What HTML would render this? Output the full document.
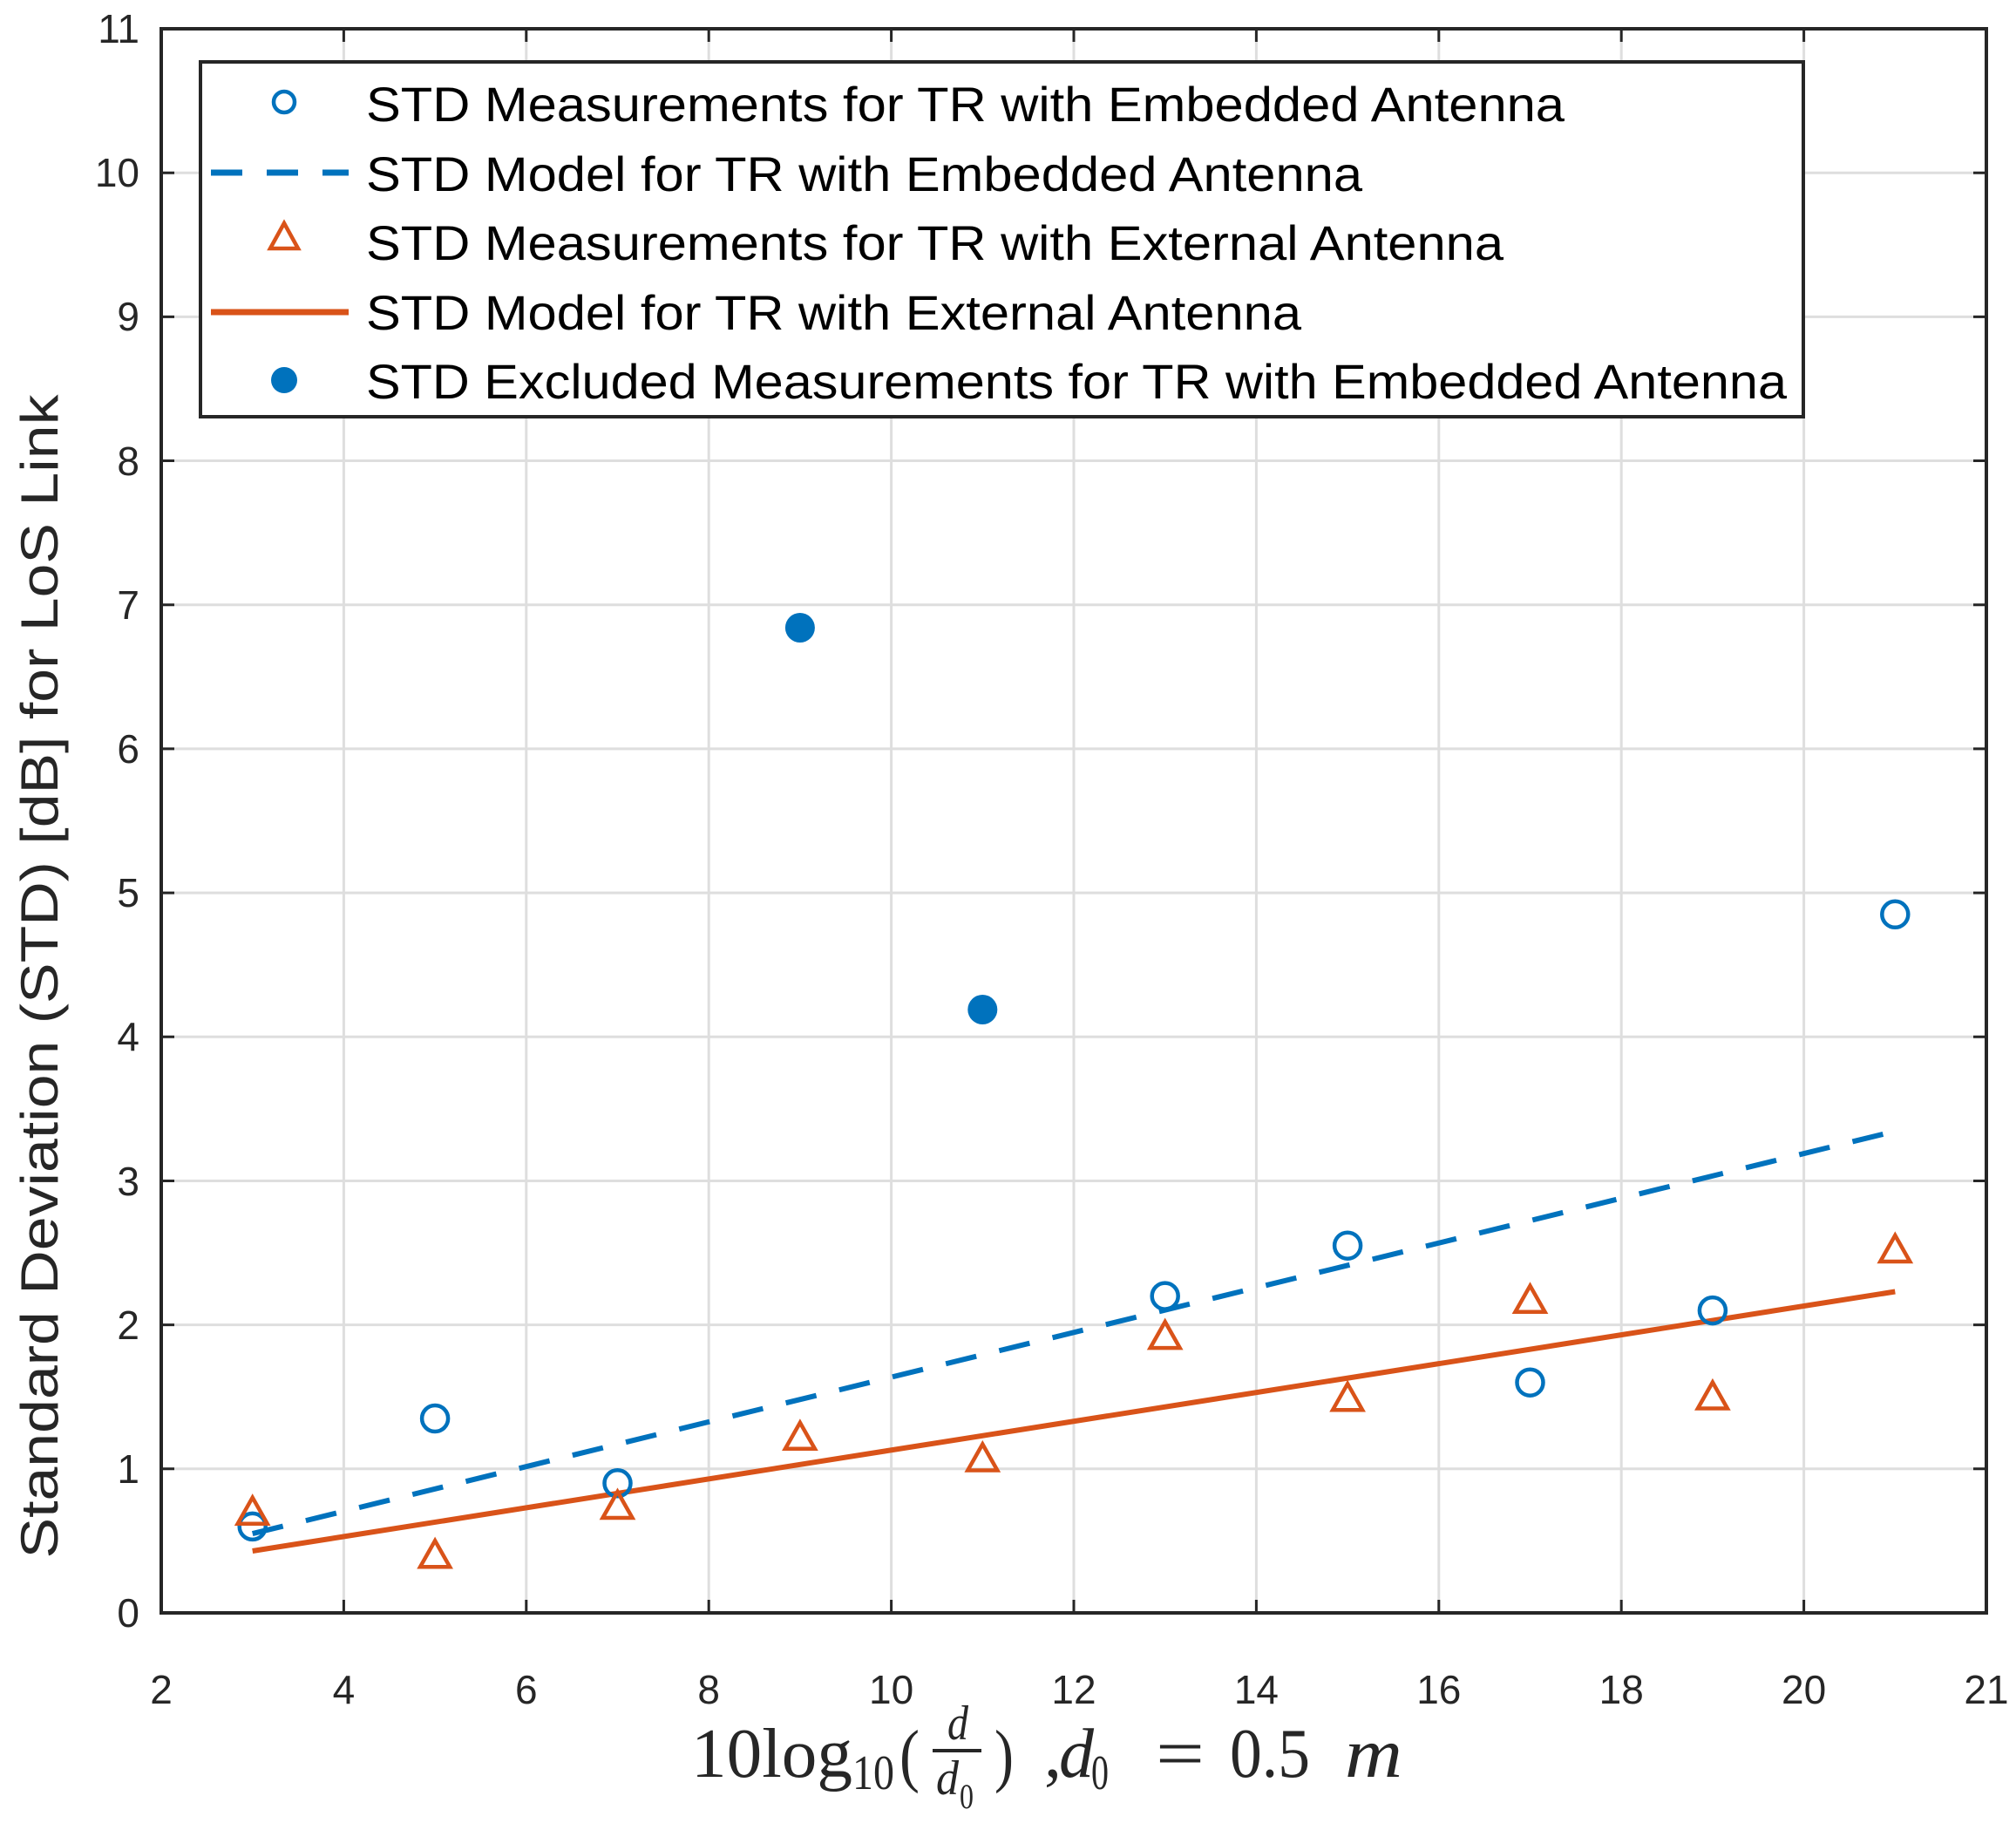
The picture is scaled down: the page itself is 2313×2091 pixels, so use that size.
<!DOCTYPE html>
<html><head><style>html,body{margin:0;padding:0;background:#fff}svg{display:block}</style></head>
<body>
<svg width="2313" height="2091" viewBox="0 0 2313 2091" xmlns="http://www.w3.org/2000/svg">
<rect width="2313" height="2091" fill="#fff"/>
<g stroke="#dedede" stroke-width="3">
<line x1="394.4" y1="33" x2="394.4" y2="1850"/><line x1="603.8" y1="33" x2="603.8" y2="1850"/>
<line x1="813.2" y1="33" x2="813.2" y2="1850"/><line x1="1022.6" y1="33" x2="1022.6" y2="1850"/>
<line x1="1232" y1="33" x2="1232" y2="1850"/><line x1="1441.4" y1="33" x2="1441.4" y2="1850"/>
<line x1="1650.8" y1="33" x2="1650.8" y2="1850"/><line x1="1860.2" y1="33" x2="1860.2" y2="1850"/>
<line x1="2069.6" y1="33" x2="2069.6" y2="1850"/>
<line x1="185" y1="1684.8" x2="2279" y2="1684.8"/><line x1="185" y1="1519.6" x2="2279" y2="1519.6"/>
<line x1="185" y1="1354.5" x2="2279" y2="1354.5"/><line x1="185" y1="1189.3" x2="2279" y2="1189.3"/>
<line x1="185" y1="1024.1" x2="2279" y2="1024.1"/><line x1="185" y1="858.9" x2="2279" y2="858.9"/>
<line x1="185" y1="693.7" x2="2279" y2="693.7"/><line x1="185" y1="528.5" x2="2279" y2="528.5"/>
<line x1="185" y1="363.4" x2="2279" y2="363.4"/><line x1="185" y1="198.2" x2="2279" y2="198.2"/>
</g>
<g stroke="#262626" stroke-width="3">
<path d="M394.4 1850v-15M603.8 1850v-15M813.2 1850v-15M1022.6 1850v-15M1232 1850v-15M1441.4 1850v-15M1650.8 1850v-15M1860.2 1850v-15M2069.6 1850v-15"/>
<path d="M394.4 33v15M603.8 33v15M813.2 33v15M1022.6 33v15M1232 33v15M1441.4 33v15M1650.8 33v15M1860.2 33v15M2069.6 33v15"/>
<path d="M185 1684.8h15M185 1519.6h15M185 1354.5h15M185 1189.3h15M185 1024.1h15M185 858.9h15M185 693.7h15M185 528.5h15M185 363.4h15M185 198.2h15"/>
<path d="M2279 1684.8h-15M2279 1519.6h-15M2279 1354.5h-15M2279 1189.3h-15M2279 1024.1h-15M2279 858.9h-15M2279 693.7h-15M2279 528.5h-15M2279 363.4h-15M2279 198.2h-15"/>
</g>
<rect x="185" y="33" width="2094" height="1817" fill="none" stroke="#262626" stroke-width="4"/>
<g font-family="Liberation Sans, sans-serif" font-size="46" fill="#262626" text-anchor="middle">
<text x="185" y="1954">2</text><text x="394.4" y="1954">4</text><text x="603.8" y="1954">6</text>
<text x="813.2" y="1954">8</text><text x="1022.6" y="1954">10</text><text x="1232" y="1954">12</text>
<text x="1441.4" y="1954">14</text><text x="1650.8" y="1954">16</text><text x="1860.2" y="1954">18</text>
<text x="2069.6" y="1954">20</text><text x="2279" y="1954">21</text>
</g>
<g font-family="Liberation Sans, sans-serif" font-size="46" fill="#262626" text-anchor="end">
<text x="160" y="1866">0</text><text x="160" y="1701">1</text><text x="160" y="1536">2</text>
<text x="160" y="1371">3</text><text x="160" y="1205">4</text><text x="160" y="1040">5</text>
<text x="160" y="875">6</text><text x="160" y="710">7</text><text x="160" y="545">8</text>
<text x="160" y="379">9</text><text x="160" y="214">10</text><text x="160" y="49">11</text>
</g>
<text transform="translate(66,1120) rotate(-90)" font-family="Liberation Sans, sans-serif" font-size="60" fill="#262626" text-anchor="middle" textLength="1335" lengthAdjust="spacingAndGlyphs">Standard Deviation (STD) [dB] for LoS Link</text>
<g font-family="Liberation Serif, serif" font-size="80" fill="#262626">
<text x="793" y="2038" textLength="185" lengthAdjust="spacingAndGlyphs">10log</text>
<text x="978" y="2052" font-size="56" textLength="48" lengthAdjust="spacingAndGlyphs">10</text>
<text x="1032" y="2040" textLength="23" lengthAdjust="spacingAndGlyphs">(</text>
<text x="1087" y="1995" font-size="56" font-style="italic" textLength="24" lengthAdjust="spacingAndGlyphs">d</text>
<line x1="1070" y1="2008" x2="1126" y2="2008" stroke="#262626" stroke-width="4"/>
<text x="1074" y="2058" font-size="56" font-style="italic" textLength="26" lengthAdjust="spacingAndGlyphs">d</text>
<text x="1101" y="2074" font-size="40" textLength="16" lengthAdjust="spacingAndGlyphs">0</text>
<text x="1141" y="2040" textLength="22" lengthAdjust="spacingAndGlyphs">)</text>
<text x="1198" y="2038">,</text>
<text x="1215" y="2038" font-style="italic" textLength="40" lengthAdjust="spacingAndGlyphs">d</text>
<text x="1252" y="2052" font-size="56" textLength="20" lengthAdjust="spacingAndGlyphs">0</text>
<text x="1326" y="2038" textLength="56" lengthAdjust="spacingAndGlyphs">=</text>
<text x="1411" y="2038" textLength="92" lengthAdjust="spacingAndGlyphs">0.5</text>
<text x="1543" y="2038" font-style="italic" textLength="66" lengthAdjust="spacingAndGlyphs">m</text>
</g>
<g stroke-width="6" fill="none">
<line x1="289.7" y1="1759.1" x2="2174.3" y2="1297.5" stroke="#0072BD" stroke-dasharray="36 27"/>
<line x1="289.7" y1="1779" x2="2174.3" y2="1481.5" stroke="#D95319"/>
</g>
<g fill="none" stroke="#0072BD" stroke-width="4.5">
<circle cx="289.7" cy="1750.9" r="15"/><circle cx="499.1" cy="1627" r="15"/>
<circle cx="708.5" cy="1701.3" r="15"/><circle cx="1336.7" cy="1486.6" r="15"/>
<circle cx="1546.1" cy="1428.7" r="15"/><circle cx="1755.5" cy="1585.7" r="15"/>
<circle cx="1964.9" cy="1503.1" r="15"/><circle cx="2174.3" cy="1048.8" r="15"/>
</g>
<g fill="#0072BD">
<circle cx="917.9" cy="720" r="17"/><circle cx="1127.3" cy="1158" r="17"/>
</g>
<g fill="none" stroke="#D95319" stroke-width="4.5">
<path d="M289.7 1717.7l-17 30h34z"/><path d="M499.1 1767.2l-17 30h34z"/>
<path d="M708.5 1711l-17 30h34z"/><path d="M917.9 1631.8l-17 30h34z"/>
<path d="M1127.3 1656.5l-17 30h34z"/><path d="M1336.7 1516.1l-17 30h34z"/>
<path d="M1546.1 1587.2l-17 30h34z"/><path d="M1755.5 1474.8l-17 30h34z"/>
<path d="M1964.9 1585.5l-17 30h34z"/><path d="M2174.3 1417l-17 30h34z"/>
</g>
<rect x="230" y="71" width="1839" height="407" fill="#fff" stroke="#262626" stroke-width="4"/>
<circle cx="326" cy="117" r="12" fill="none" stroke="#0072BD" stroke-width="4.5"/>
<line x1="242" y1="198" x2="400" y2="198" stroke="#0072BD" stroke-dasharray="36 28" stroke-width="7"/>
<path d="M326 256l-16 29h32z" fill="none" stroke="#D95319" stroke-width="4.5"/>
<line x1="242" y1="358" x2="400" y2="358" stroke="#D95319" stroke-width="7"/>
<circle cx="326" cy="436" r="15" fill="#0072BD"/>
<g font-family="Liberation Sans, sans-serif" font-size="56" fill="#000">
<text x="420" y="139" textLength="1375" lengthAdjust="spacingAndGlyphs">STD Measurements for TR with Embedded Antenna</text>
<text x="420" y="219" textLength="1143" lengthAdjust="spacingAndGlyphs">STD Model for TR with Embedded Antenna</text>
<text x="420" y="298" textLength="1305" lengthAdjust="spacingAndGlyphs">STD Measurements for TR with External Antenna</text>
<text x="420" y="378" textLength="1073" lengthAdjust="spacingAndGlyphs">STD Model for TR with External Antenna</text>
<text x="420" y="457" textLength="1630" lengthAdjust="spacingAndGlyphs">STD Excluded Measurements for TR with Embedded Antenna</text>
</g>
</svg>
</body></html>
